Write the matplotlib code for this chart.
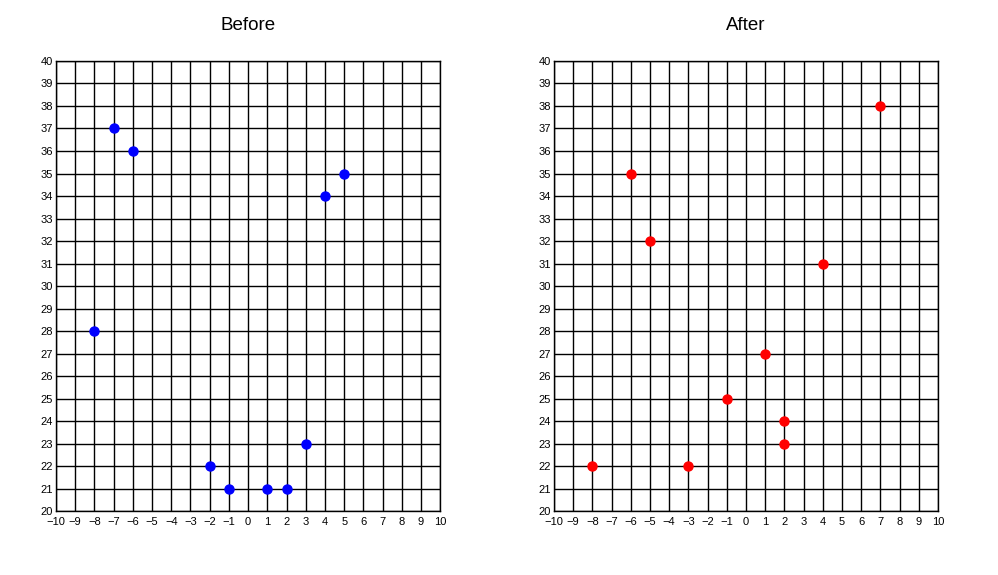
import matplotlib.pyplot as plt

plt.rcParams["font.family"] = ["Liberation Sans", "DejaVu Sans"]

beforeX = [-8, -7, -6, -2, -1, 1, 2, 3, 4, 5]
beforeY = [28, 37, 36, 22, 21, 21, 21, 23, 34, 35]

afterX = [-8, -6, -5, -3, -1, 1, 2, 2, 4, 7]
afterY = [22, 35, 32, 22, 25, 27, 24, 23, 31, 38]

xTicks = list(range(-10, 11))
yTicks = list(range(20, 41))


def drawPanel(ax, xs, ys, color, title):
    ax.plot(xs, ys, "o", color=color, markersize=6.5, zorder=3, clip_on=False)
    ax.set_xlim(-10, 10)
    ax.set_ylim(20, 40)
    ax.set_xticks(xTicks)
    ax.set_yticks(yTicks)
    ax.grid(True, color="black", linewidth=1.0)
    ax.set_axisbelow(True)
    ax.tick_params(length=0, labelsize=8)
    ax.tick_params(axis="x", pad=4)
    ax.tick_params(axis="y", pad=2)
    for spine in ax.spines.values():
        spine.set_linewidth(1.0)
    ax.set_title(title, fontsize=13.5, pad=22)


fig = plt.figure(figsize=(9.98, 5.75), dpi=100)
axLeft = fig.add_axes([0.0561, 0.111, 0.385, 0.783])
axRight = fig.add_axes([0.555, 0.111, 0.385, 0.783])
drawPanel(axLeft, beforeX, beforeY, "blue", "Before")
drawPanel(axRight, afterX, afterY, "red", "After")

fig.savefig("out.png", dpi=100)
